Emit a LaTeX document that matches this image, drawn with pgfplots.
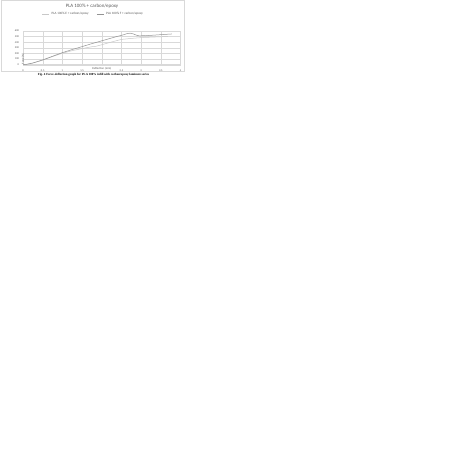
\documentclass[border=0pt]{standalone}
\usepackage{fontspec}
\setmainfont{Carlito}
\newfontfamily\capfont{Liberation Serif}
\usepackage{pgfplots}
\pgfplotsset{compat=1.18}

\definecolor{txtgray}{HTML}{595959}
\definecolor{gridgray}{HTML}{D9D9D9}
\definecolor{lineE}{HTML}{C8C8C8}
\definecolor{lineF}{HTML}{939393}

\begin{document}
\begin{tikzpicture}[x=1bp,y=1bp]
% page is much larger than the chart itself
\path[use as bounding box] (0,0) rectangle (474,-462);
\draw[gridgray, line width=0.3bp] (1.5,-0.5) rectangle (184.5,-71.5);
\node[text=txtgray, font=\fontsize{5}{6}\selectfont] at (92,-6) {PLA 100\% + carbon/epoxy};

\begin{axis}[
  at={(23bp,-64.7bp)}, anchor=south west,
  scale only axis, width=157.5bp, height=33.7bp,
  xmin=0, xmax=4, ymin=0, ymax=600,
  xtick={0,0.5,...,4}, ytick={0,100,...,600},
  xmajorgrids, ymajorgrids,
  grid style={gridgray, line width=0.3bp},
  major grid style={gridgray, line width=0.3bp},
  axis x line*=bottom, axis y line*=left,
  x axis line style={gridgray, line width=0.4bp, -},
  y axis line style={draw=none},
  major tick length=0,
  /pgf/number format/assume math mode=true,
  tick label style={font=\fontsize{2.7}{3}\selectfont, text=txtgray},
  xticklabel style={yshift=-1.8bp},
  yticklabel style={xshift=-0.5bp},
  xlabel={Deflection (mm)},
  xlabel style={at={(axis description cs:0.5,0)}, anchor=center, yshift=-4.4bp,
    fill=white, inner sep=0.3bp, font=\fontsize{2.9}{3.2}\selectfont, text=txtgray},
  ylabel={Force (N)},
  ylabel style={at={(axis description cs:0,0.5)}, anchor=center, xshift=-11bp,
    font=\fontsize{2.9}{3.2}\selectfont, text=txtgray},
  legend columns=2,
  legend style={draw=none, fill=none, at={(0.448,1.504)}, anchor=center,
    font=\fontsize{3.3}{4}\selectfont, text=txtgray, inner sep=0pt,
    /tikz/every even column/.append style={column sep=6bp}},
  legend image code/.code={\draw[#1] (0bp,0bp) -- (7bp,0bp);},
]
\addplot[lineE, line width=0.5bp] coordinates {
  (0,0) (0.1,8) (0.25,30) (0.5,80) (0.75,145) (1,205) (1.25,250) (1.5,287)
  (1.75,320) (1.85,327) (2,355) (2.25,405) (2.5,450) (2.75,468) (3,482)
  (3.25,490) (3.5,497) (3.68,500)};
\addlegendentry{PLA 100\% E + carbon/epoxy}
\addplot[lineF, line width=0.5bp] coordinates {
  (0,0) (0.1,8) (0.25,30) (0.5,85) (0.75,150) (1,215) (1.25,270) (1.5,322)
  (1.75,375) (2,425) (2.25,475) (2.4,505) (2.5,522) (2.55,532) (2.65,555)
  (2.72,561) (2.8,548) (2.9,520) (2.97,512) (3.05,518) (3.1,515) (3.3,525)
  (3.5,535) (3.78,547)};
\addlegendentry{PLA 100\% F + carbon/epoxy}
\end{axis}

\node[font=\capfont\bfseries\fontsize{3.1}{3.5}\selectfont] at (93.5,-74.5)
  {Fig. 4 Force-deflection graph for PLA 100\% infill with carbon/epoxy laminate series};
\end{tikzpicture}
\end{document}
